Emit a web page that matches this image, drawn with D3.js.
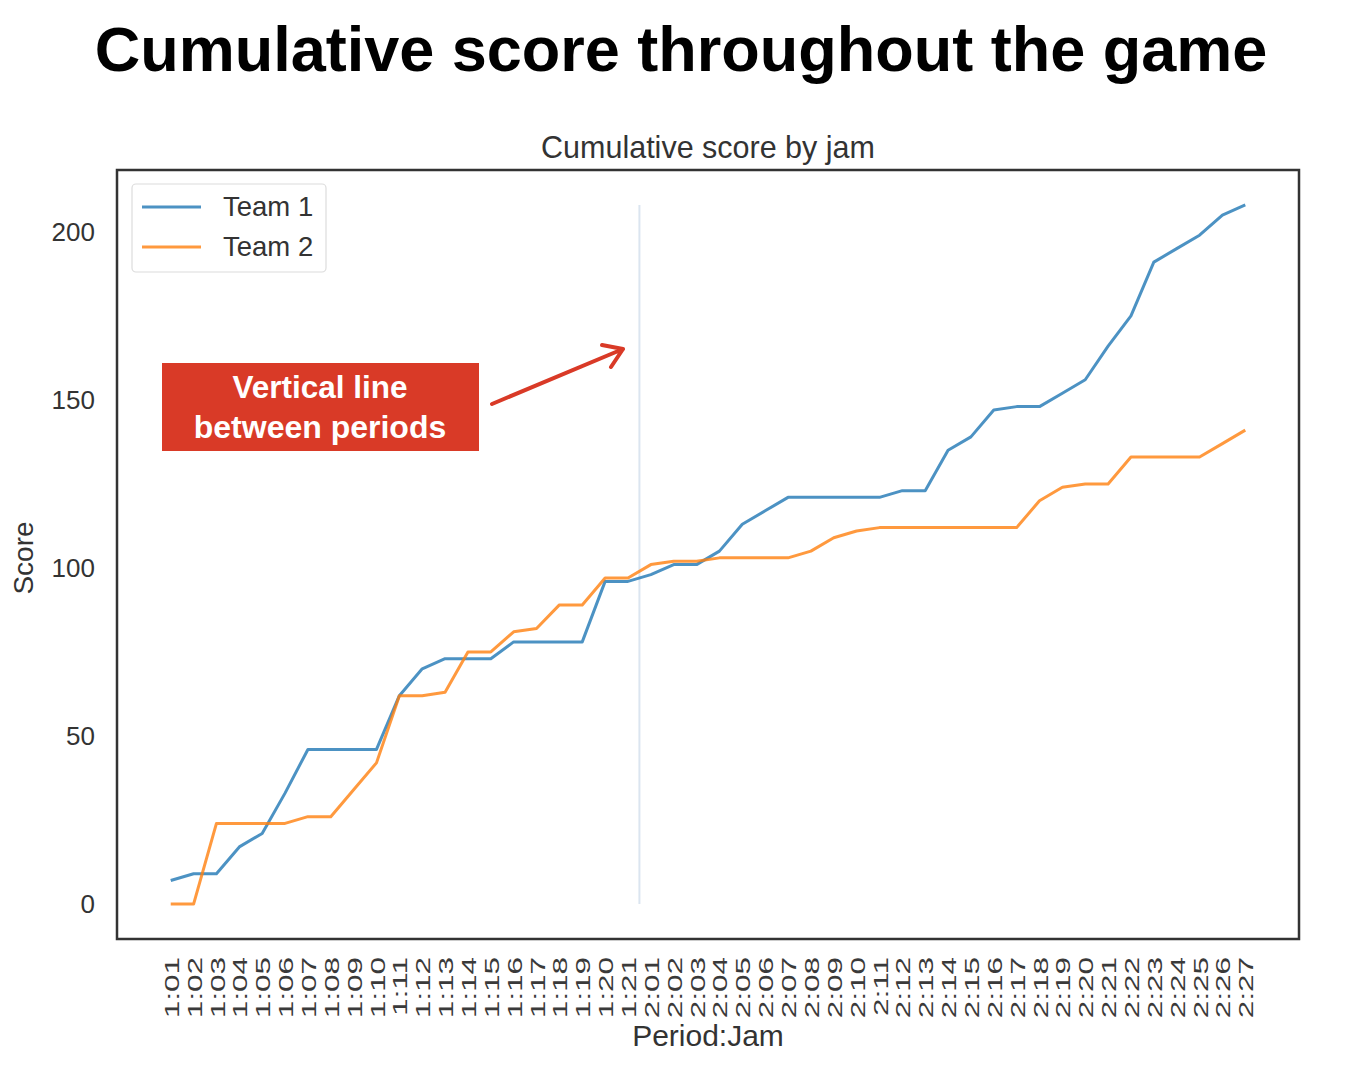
<!DOCTYPE html>
<html>
<head>
<meta charset="utf-8">
<script src="https://cdn.jsdelivr.net/npm/d3@7"></script>
<style>
  body { margin: 0; background: #fff; }
  svg { display: block; font-family: "Liberation Sans", Arial, Helvetica, sans-serif; }
</style>
</head>
<body>
<svg id="chart" width="1368" height="1068"></svg>
<script>
// Jams: period 1 has 21, period 2 has 27
const jams = [
  '1:01','1:02','1:03','1:04','1:05','1:06','1:07','1:08','1:09','1:10',
  '1:11','1:12','1:13','1:14','1:15','1:16','1:17','1:18','1:19','1:20','1:21',
  '2:01','2:02','2:03','2:04','2:05','2:06','2:07','2:08','2:09','2:10',
  '2:11','2:12','2:13','2:14','2:15','2:16','2:17','2:18','2:19','2:20',
  '2:21','2:22','2:23','2:24','2:25','2:26','2:27'
];
const team1 = [
  7, 9, 9, 17, 21, 33, 46, 46, 46, 46,
  62, 70, 73, 73, 73, 78, 78, 78, 78, 96, 96,
  98, 101, 101, 105, 113, 117, 121, 121, 121, 121,
  121, 123, 123, 135, 139, 147, 148, 148, 152, 156,
  166, 175, 191, 195, 199, 205, 208
];
const team2 = [
  0, 0, 24, 24, 24, 24, 26, 26, 34, 42,
  62, 62, 63, 75, 75, 81, 82, 89, 89, 97, 97,
  101, 102, 102, 103, 103, 103, 103, 105, 109, 111,
  112, 112, 112, 112, 112, 112, 112, 120, 124, 125,
  125, 133, 133, 133, 133, 137, 141
];
const series = [
  { name: 'Team 1', values: team1, color: '#1f77b4' },
  { name: 'Team 2', values: team2, color: '#ff7f0e' }
];
const yTicks = [0, 50, 100, 150, 200];

const svg = d3.select('#chart');
const L = 117, R = 1299, T = 170, B = 939;

const x = d3.scalePoint().domain(jams).range([L, R]).padding(2.35);
const allVals = team1.concat(team2);
const yMin = d3.min(allVals), yMax = d3.max(allVals);
const pad = (yMax - yMin) * 0.05;
const y = d3.scaleLinear().domain([yMin - pad, yMax + pad]).range([B, T]);

// Big headline
svg.append('text')
  .attr('x', 681).attr('y', 71)
  .attr('text-anchor', 'middle')
  .attr('font-size', 63).attr('font-weight', 'bold').attr('fill', '#000')
  .text('Cumulative score throughout the game');

// Axes title
svg.append('text')
  .attr('x', (L + R) / 2).attr('y', 158)
  .attr('text-anchor', 'middle')
  .attr('font-size', 30.5).attr('fill', '#333')
  .text('Cumulative score by jam');

// Period divider
const divX = (x('1:21') + x('2:01')) / 2;
svg.append('line')
  .attr('x1', divX).attr('x2', divX)
  .attr('y1', y(yMin)).attr('y2', y(yMax))
  .attr('stroke', '#dbe5f0').attr('stroke-width', 2);

// Lines
const line = d3.line().x((d, i) => x(jams[i])).y((d) => y(d));
series.forEach((s) => {
  svg.append('path')
    .attr('d', line(s.values))
    .attr('fill', 'none')
    .attr('stroke', s.color).attr('stroke-opacity', 0.8)
    .attr('stroke-width', 3)
    .attr('stroke-linejoin', 'round');
});

// Y axis (no tick marks, seaborn white style)
const yAxis = svg.append('g')
  .attr('transform', `translate(${L},0)`)
  .call(d3.axisLeft(y).tickValues(yTicks).tickSize(0).tickPadding(22));
yAxis.select('.domain').remove();
yAxis.selectAll('text').attr('font-size', 26)
  .attr('font-family', null).attr('fill', '#333');

// X axis with rotated labels (stretched along their length like the source)
const xAxis = svg.append('g')
  .attr('transform', `translate(0,${B})`)
  .call(d3.axisBottom(x).tickSize(0).tickPadding(0));
xAxis.select('.domain').remove();
xAxis.selectAll('text')
  .attr('font-family', null).attr('font-size', 21).attr('fill', '#3a3a3a')
  .attr('text-anchor', 'end')
  .attr('transform', 'translate(0,18) rotate(-90) scale(1.5,1)')
  .attr('x', 0).attr('y', 0).attr('dy', '0.36em');

// Frame
svg.append('rect')
  .attr('x', L).attr('y', T).attr('width', R - L).attr('height', B - T)
  .attr('fill', 'none').attr('stroke', '#333').attr('stroke-width', 2.5);

// Axis labels
svg.append('text')
  .attr('x', (L + R) / 2).attr('y', 1046)
  .attr('text-anchor', 'middle').attr('font-size', 30).attr('fill', '#333')
  .text('Period:Jam');
svg.append('text')
  .attr('transform', `translate(33,558) rotate(-90)`)
  .attr('text-anchor', 'middle').attr('font-size', 28).attr('fill', '#333')
  .text('Score');

// Legend
const lg = svg.append('g');
lg.append('rect')
  .attr('x', 132).attr('y', 184).attr('width', 194).attr('height', 88)
  .attr('rx', 4).attr('fill', '#fff').attr('fill-opacity', 0.8)
  .attr('stroke', '#dcdcdc').attr('stroke-width', 1.2);
series.forEach((s, i) => {
  const ly = 207 + i * 40;
  lg.append('line')
    .attr('x1', 142).attr('x2', 201).attr('y1', ly).attr('y2', ly)
    .attr('stroke', s.color).attr('stroke-opacity', 0.8).attr('stroke-width', 3);
  lg.append('text')
    .attr('x', 223).attr('y', ly + 9)
    .attr('font-size', 27.5).attr('fill', '#333')
    .text(s.name);
});

// Annotation callout
svg.append('rect')
  .attr('x', 162).attr('y', 363).attr('width', 317).attr('height', 88)
  .attr('fill', '#d93a27');
svg.append('text')
  .attr('x', 320).attr('y', 398)
  .attr('text-anchor', 'middle').attr('font-size', 31.5).attr('font-weight', 'bold').attr('fill', '#fff')
  .text('Vertical line');
svg.append('text')
  .attr('x', 320).attr('y', 438)
  .attr('text-anchor', 'middle').attr('font-size', 32).attr('font-weight', 'bold').attr('fill', '#fff')
  .text('between periods');

const tip = [623, 349];
svg.append('path')
  .attr('d', `M492,404L${tip[0]},${tip[1]}M602,345L${tip[0]},${tip[1]}L611,367`)
  .attr('fill', 'none').attr('stroke', '#d93a27').attr('stroke-width', 4)
  .attr('stroke-linecap', 'round').attr('stroke-linejoin', 'round');
</script>
</body>
</html>
